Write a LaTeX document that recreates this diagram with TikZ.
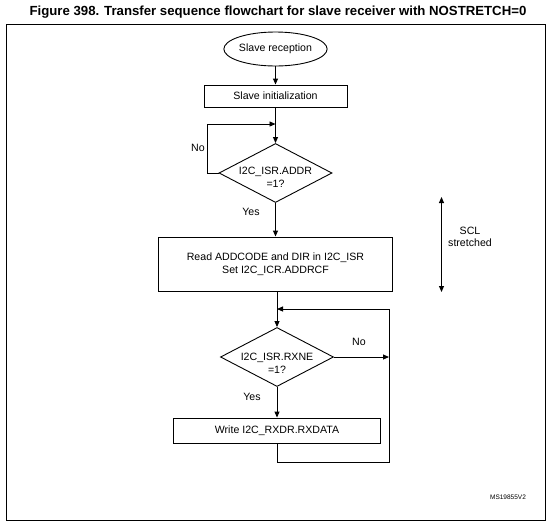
\documentclass[tikz,border=0pt]{standalone}
\usepackage{fontspec}
\setmainfont{Liberation Sans}
\usetikzlibrary{shapes.geometric, arrows.meta}
\begin{document}
\begin{tikzpicture}[x=1pt,y=-1pt,
  every node/.style={font=\fontsize{10.6}{12.6}\selectfont, inner sep=0pt},
  flow/.style={line width=0.9pt, draw=black},
  arr/.style={flow, -{Triangle[length=6pt,width=5pt]}},
  dbl/.style={flow, {Triangle[length=6pt,width=5pt]}-{Triangle[length=6pt,width=5pt]}},
  procbox/.style={draw, line width=0.9pt, rectangle, align=center},
  decision/.style={draw, line width=0.9pt, diamond, minimum width=113pt, minimum height=59pt, aspect=1.9},
  lbl/.style={align=center}
]
\useasboundingbox (0,0) rectangle (551,528);
\node[font=\bfseries\fontsize{13.2}{15}\selectfont] (title) at (278,12) {Figure 398. Transfer sequence flowchart for slave receiver with NOSTRETCH=0};
\draw[line width=0.9pt] (6,24) rectangle (545.5,520);

\node[draw, line width=0.9pt, ellipse, minimum width=92pt, minimum height=34pt] (start) at (275.5,49) {Slave reception};
\node[procbox, minimum width=143pt, minimum height=22pt] (init) at (275.5,96) {Slave initialization};
\node[decision] (d1) at (275.5,173) {};
\node[lbl] (d1t) at (275.5,177) {I2C\_ISR.ADDR\\=1?};
\node[procbox, minimum width=234pt, minimum height=54pt] (rb) at (275.5,264) {Read ADDCODE and DIR in I2C\_ISR\\Set I2C\_ICR.ADDRCF};
\node[decision] (d2) at (277,357) {};
\node[lbl] (d2t) at (277,363) {I2C\_ISR.RXNE\\=1?};
\node[procbox, minimum width=207pt, minimum height=25pt] (wr) at (277,430.5) {Write I2C\_RXDR.RXDATA};

\coordinate (j1) at (275.5,124);
\coordinate (l1) at (207.5,124);
\coordinate (j2) at (277,309);
\coordinate (r2) at (389,309);
\coordinate (b2) at (389,462);
\coordinate (e2) at (389,357);

\draw[arr] (start) -- (init);
\draw[arr] (init) -- (d1);
\draw[arr] (d1.west) -- (d1.west -| l1) -- (l1) -- (j1);
\node (no1) at (198,148) {No};
\draw[arr] (d1) -- (rb);
\node (yes1) at (251,212) {Yes};

\draw[arr] (rb.south -| d2.north) -- (d2.north);
\draw[arr] (d2) -- (wr);
\node (yes2) at (252,397) {Yes};
\draw[arr] (d2.east) -- (e2);
\node (no2) at (359,342) {No};
\draw[arr] (wr.south) -- (wr.south |- b2) -- (b2) -- (r2) -- (j2);

\coordinate (s1) at (441.5,197);
\coordinate (s2) at (441.5,292);
\draw[dbl] (s1) -- (s2);
\node[lbl] (scl) at (470,237) {SCL\\stretched};

\node[font=\fontsize{6.5}{7}\selectfont] (ms) at (508,497) {MS19855V2};
\end{tikzpicture}
\end{document}
